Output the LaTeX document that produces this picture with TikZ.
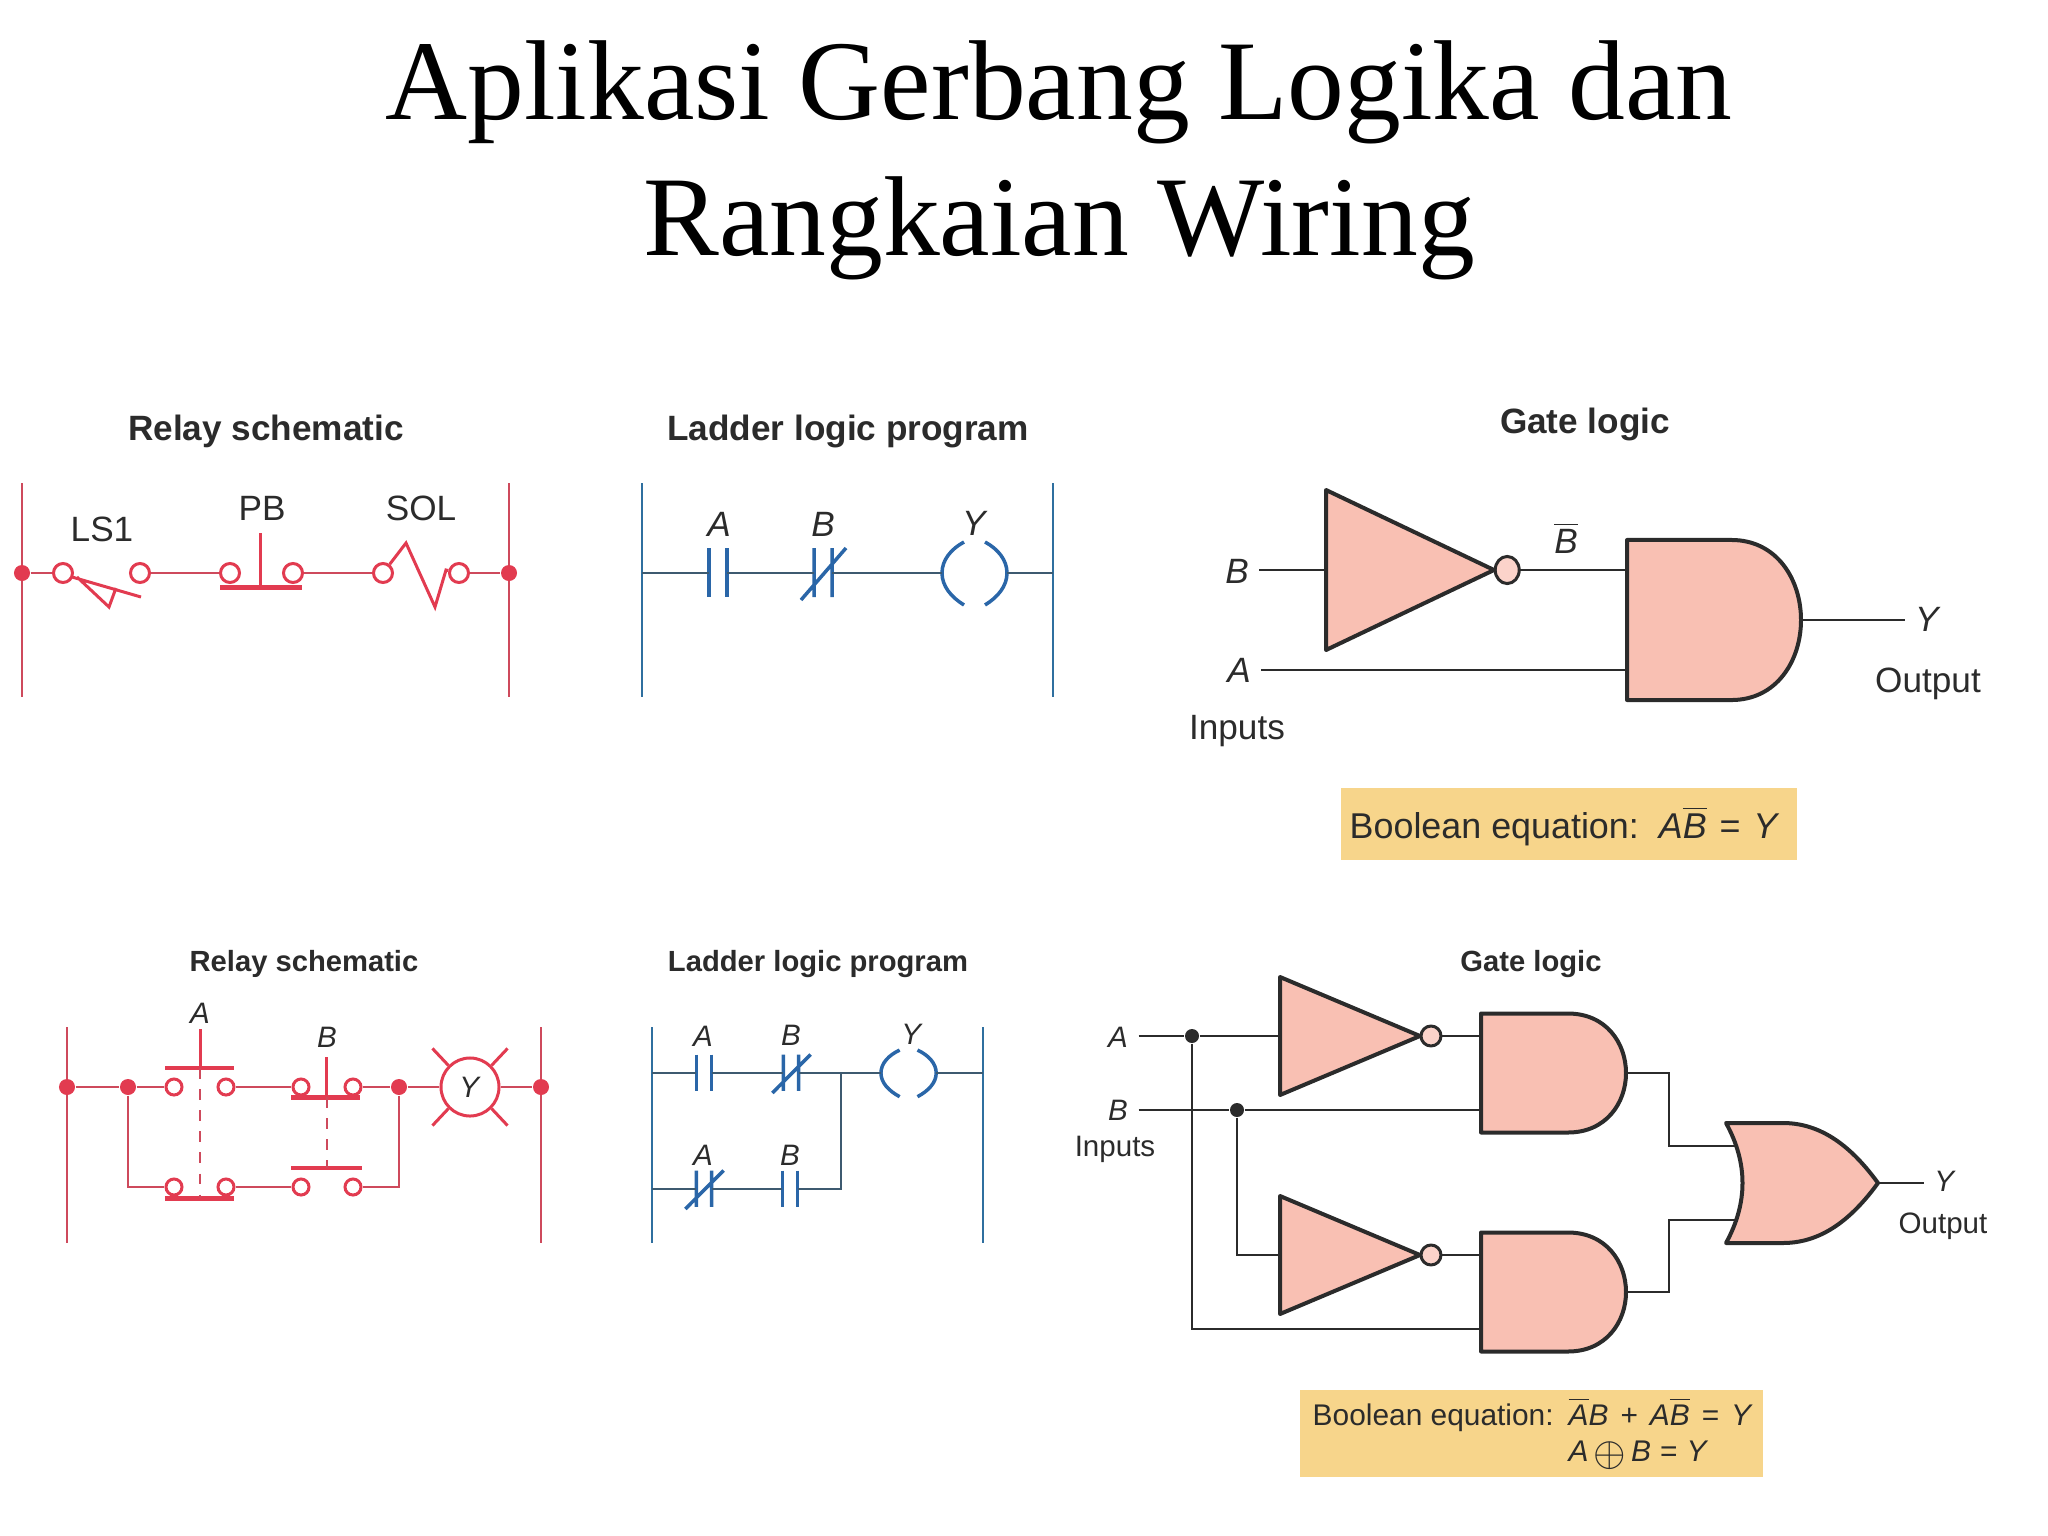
\documentclass[tikz,border=0pt]{standalone}
\usepackage{fontspec}
\setmainfont{Liberation Sans}
\newfontfamily\titlefont{Liberation Serif}
\usetikzlibrary{calc}

\definecolor{relayred}{HTML}{E23B50}
\definecolor{wirered}{HTML}{CE4A5C}
\definecolor{railblue}{HTML}{2F6F9F}
\definecolor{rungblue}{HTML}{3D5A70}
\definecolor{contactblue}{HTML}{2A66A8}
\definecolor{gatepink}{HTML}{F9C0B3}
\definecolor{bubblepink}{HTML}{FBD3CA}
\definecolor{boxyellow}{HTML}{F7D58B}
\definecolor{inktext}{HTML}{2B2B2B}

\tikzset{
    title/.style={font=\titlefont\fontsize{32.3}{39}\selectfont, anchor=base, text=black, inner sep=0pt},
    headbig/.style={font=\bfseries\fontsize{10}{12}\selectfont, text=inktext, inner sep=0pt},
    headsmall/.style={font=\bfseries\fontsize{8.3}{10}\selectfont, text=inktext, inner sep=0pt},
    lblbig/.style={font=\fontsize{10}{12}\selectfont, text=inktext, inner sep=0.1cm},
    lblsmall/.style={font=\fontsize{8.4}{10}\selectfont, text=inktext, inner sep=0.1cm},
    eqtext/.style={anchor=base west, text=inktext, inner sep=0pt},
    redrail/.style={wirered, line width=0.02cm},
    redwire/.style={wirered, line width=0.025cm},
    redbar/.style={relayred, line width=0.05cm},
    redline/.style={relayred, line width=0.03cm},
    pole/.style={circle, draw=relayred, line width=0.03cm, fill=white, minimum size=0.19cm, inner sep=0pt},
    polesmall/.style={pole, minimum size=0.16cm},
    reddot/.style={circle, fill=relayred, minimum size=0.16cm, inner sep=0pt},
    bluerail/.style={railblue, line width=0.02cm},
    bluewire/.style={rungblue, line width=0.025cm},
    bluebar/.style={contactblue, line width=0.035cm},
    gate/.style={draw=inktext, fill=gatepink, line width=0.04cm, line join=round},
    wire/.style={inktext, line width=0.025cm},
    blackdot/.style={circle, fill=inktext, minimum size=0.14cm, inner sep=0pt},
    eqbox/.style={fill=boxyellow, inner sep=0pt},
    andgate/.pic={
        \path[gate] (0,-59.5) -- (87,-59.5) .. controls (125,-59.5) and (145,-30) .. (145,0) .. controls (145,30) and (125,59.5) .. (87,59.5) -- (0,59.5) -- cycle;
        \coordinate (-in1) at (0,-37);
        \coordinate (-in2) at (0,37);
        \coordinate (-out) at (145,0);
    },
    orgate/.pic={
        \path[gate] (0,-60) -- (57,-60) .. controls (100,-60) and (130,-30) .. (152,0) .. controls (130,30) and (100,60) .. (57,60) -- (0,60) .. controls (22,20) and (22,-20) .. (0,-60) -- cycle;
        \coordinate (-in1) at (10,-37);
        \coordinate (-in2) at (10,37);
        \coordinate (-out) at (152,0);
    },
    notgate/.pic={
        \path[gate] (0,-59) -- (140,0) -- (0,59) -- cycle;
        \path[gate, fill=bubblepink, line width=0.03cm] (151,0) circle [radius=10];
        \coordinate (-in) at (0,0);
        \coordinate (-out) at (161,0);
    },
    nocontact/.pic={
        \draw[bluebar] (-9,-25) -- (-9,24) (9,-25) -- (9,24);
        \coordinate (-l) at (-9,0);
        \coordinate (-r) at (9,0);
    },
    nccontact/.pic={
        \draw[bluebar] (-9,-25) -- (-9,24) (9,-25) -- (9,24) (-22,27) -- (23,-25);
        \coordinate (-l) at (-9,0);
        \coordinate (-r) at (9,0);
    },
    coil/.pic={
        \draw[contactblue, line width=0.035cm] (-11,-31) .. controls (-24,-24) and (-33,-13) .. (-33,0) .. controls (-33,13) and (-24,24) .. (-11,32);
        \draw[contactblue, line width=0.035cm] (10,-31) .. controls (23,-24) and (32,-13) .. (32,0) .. controls (32,13) and (23,24) .. (10,32);
        \coordinate (-l) at (-33,0);
        \coordinate (-r) at (32,0);
    }
}

\begin{document}
\begin{tikzpicture}[x=0.01cm, y=-0.01cm]
    \useasboundingbox (0,0) rectangle (2048,1536);

    \node[title] (titleone) at (1059,119) {Aplikasi Gerbang Logika dan};
    \node[title] (titletwo) at (1059,255) {Rangkaian Wiring};

    % upper relay schematic
    \node[headbig] (headrelayone) at (266,431) {Relay schematic};
    \coordinate (railaT) at (22,483);
    \coordinate (railaB) at (22,697);
    \coordinate (railbT) at (509,483);
    \coordinate (railbB) at (509,697);
    \draw[redrail] (railaT) -- (railaB);
    \draw[redrail] (railbT) -- (railbB);
    \node[reddot] (dota) at (22,573) {};
    \node[reddot] (dotb) at (509,573) {};
    \node[pole] (lsl) at (63,573) {};
    \node[pole] (lsr) at (140,573) {};
    \node[pole] (pbl) at (230,573) {};
    \node[pole] (pbr) at (293,573) {};
    \node[pole] (soll) at (383,573) {};
    \node[pole] (solr) at (459,573) {};
    \draw[redwire] (dota) -- (lsl);
    \draw[redwire] (lsr) -- (pbl);
    \draw[redwire] (pbr) -- (soll);
    \draw[redwire] (solr) -- (dotb);
    \draw[redline] (72,577) -- (141,597) (77,577) -- (109,607) -- (116,588); % LS1
    \draw[redline] (260,533) -- (260,588); % PB
    \draw[redbar] (220,587) -- (302,587);
    \draw[redline] (soll) -- (406,543) -- (435,607) -- (446,570) -- (solr); % SOL
    \node[lblbig] (lblls) at (102,529) {LS1};
    \node[lblbig] (lblpb) at (262,508) {PB};
    \node[lblbig] (lblsol) at (421,508) {SOL};

    % upper ladder
    \node[headbig] (headladderone) at (848,431) {Ladder logic program};
    \coordinate (railcT) at (642,483);
    \coordinate (railcB) at (642,697);
    \coordinate (raildT) at (1053,483);
    \coordinate (raildB) at (1053,697);
    \draw[bluerail] (railcT) -- (railcB);
    \draw[bluerail] (raildT) -- (raildB);
    \coordinate (rungcL) at (642,573);
    \coordinate (rungcR) at (1053,573);
    \pic (conA) at (718,573) {nocontact};
    \pic (conB) at (823,573) {nccontact};
    \pic (coilY) at (975,573) {coil};
    \draw[bluewire] (rungcL) -- (conA-l);
    \draw[bluewire] (conA-r) -- (conB-l);
    \draw[bluewire] (conB-r) -- (coilY-l);
    \draw[bluewire] (coilY-r) -- (rungcR);
    \node[lblbig] (lblconA) at (719,524) {\textit{A}};
    \node[lblbig] (lblconB) at (823,524) {\textit{B}};
    \node[lblbig] (lblcoilY) at (975,523) {\textit{Y}};

    % upper gate logic
    \node[headbig] (headgateone) at (1585,424) {Gate logic};
    \node[lblbig] (lblB) at (1237,571) {\textit{B}};
    \node[lblbig] (lblA) at (1239,670) {\textit{A}};
    \node[lblbig] (lblY) at (1928,619) {\textit{Y}};
    \node[lblbig, inner sep=0pt] (lblBbar) at (1566,538) {$\overline{\mbox{\textit{B}}}$};
    \node[lblbig] (lblin) at (1237,731) {Inputs};
    \node[lblbig] (lblout) at (1928,684) {Output};
    \pic[xscale=1.2, yscale=1.356] (invB) at (1326,570) {notgate};
    \pic[xscale=1.2, yscale=1.345] (andY) at (1627,620) {andgate};
    \draw[wire] (invB-in -| lblB.east) -- (invB-in);
    \draw[wire] (invB-out) -- (invB-out -| andY-in1);
    \draw[wire] (andY-in2 -| lblA.east) -- (andY-in2);
    \draw[wire] (andY-out) -- (andY-out -| lblY.west);
    \node[eqbox, minimum width=4.56cm, minimum height=0.72cm] (boxone) at (1569,824) {};
    \node[eqtext, font=\fontsize{10.2}{12}\selectfont] (eqone) at (1349,838) {Boolean equation:\ \ \textit{A}$\overline{\mbox{\textit{B}}}$\hspace{.36em}=\hspace{.36em}\textit{Y}};

    % lower relay schematic
    \node[headsmall] (headrelaytwo) at (304,964) {Relay schematic};
    \coordinate (raileT) at (67,1027);
    \coordinate (raileB) at (67,1243);
    \coordinate (railfT) at (541,1027);
    \coordinate (railfB) at (541,1243);
    \draw[redrail] (raileT) -- (raileB);
    \draw[redrail] (railfT) -- (railfB);
    \node[reddot] (dote) at (67,1087) {};
    \node[reddot] (dotl) at (128,1087) {};
    \node[reddot] (dotr) at (399,1087) {};
    \node[reddot] (dotf) at (541,1087) {};
    \node[polesmall] (aupl) at (174,1087) {};
    \node[polesmall] (aupr) at (226,1087) {};
    \node[polesmall] (bupl) at (301,1087) {};
    \node[polesmall] (bupr) at (353,1087) {};
    \node[polesmall] (alol) at (174,1187) {};
    \node[polesmall] (alor) at (226,1187) {};
    \node[polesmall] (blol) at (301,1187) {};
    \node[polesmall] (blor) at (353,1187) {};
    \node[circle, draw=relayred, line width=0.03cm, fill=white, minimum size=0.58cm, inner sep=0pt, font=\fontsize{8.4}{10}\selectfont, text=inktext] (lamp) at (470,1087) {\textit{Y}};
    \draw[redwire] (dote) -- (dotl);
    \draw[redwire] (dotl) -- (aupl);
    \draw[redwire] (aupr) -- (bupl);
    \draw[redwire] (bupr) -- (dotr);
    \draw[redwire] (dotr) -- (lamp);
    \draw[redwire] (lamp) -- (dotf);
    \draw[redwire] (dotl) |- (alol);
    \draw[redwire] (alor) -- (blol);
    \draw[redwire] (dotr) |- (blor);
    \draw[redline] (200,1029) -- (200,1068);
    \draw[redbar, line width=0.035cm] (165,1068) -- (234,1068);
    \draw[redline] (326,1057) -- (326,1097);
    \draw[redbar] (291,1097) -- (360,1097);
    \draw[redbar] (165,1198) -- (234,1198);
    \draw[redbar, line width=0.035cm] (291,1168) -- (362,1168);
    \draw[wirered, line width=0.015cm, dashed] (200,1068) -- (200,1198);
    \draw[wirered, line width=0.015cm, dashed] (327,1097) -- (327,1168);
    \draw[redline] (lamp.135) -- ++(-16,-17);
    \draw[redline] (lamp.45) -- ++(16,-17);
    \draw[redline] (lamp.225) -- ++(-16,17);
    \draw[redline] (lamp.315) -- ++(16,17);
    \node[lblsmall] (lblrelA) at (200,1013) {\textit{A}};
    \node[lblsmall] (lblrelB) at (327,1037) {\textit{B}};

    % lower ladder
    \node[headsmall] (headladdertwo) at (818,964) {Ladder logic program};
    \coordinate (railgT) at (652,1027);
    \coordinate (railgB) at (652,1243);
    \coordinate (railhT) at (983,1027);
    \coordinate (railhB) at (983,1243);
    \draw[bluerail] (railgT) -- (railgB);
    \draw[bluerail] (railhT) -- (railhB);
    \coordinate (runggU) at (652,1073);
    \coordinate (rungjoin) at (841,1073);
    \coordinate (runghU) at (983,1073);
    \coordinate (runggL) at (652,1189);
    \pic[xscale=0.85, yscale=0.74] (conAa) at (704,1073) {nocontact};
    \pic[xscale=0.85, yscale=0.74] (conBa) at (791,1073) {nccontact};
    \pic[xscale=0.85, yscale=0.74] (coilYb) at (909,1073) {coil};
    \pic[xscale=0.85, yscale=0.74] (conAb) at (704,1189) {nccontact};
    \pic[xscale=0.85, yscale=0.74] (conBb) at (790,1189) {nocontact};
    \draw[bluewire] (runggU) -- (conAa-l);
    \draw[bluewire] (conAa-r) -- (conBa-l);
    \draw[bluewire] (conBa-r) -- (coilYb-l);
    \draw[bluewire] (coilYb-r) -- (runghU);
    \draw[bluewire] (runggL) -- (conAb-l);
    \draw[bluewire] (conAb-r) -- (conBb-l);
    \draw[bluewire] (conBb-r) -| (rungjoin);
    \node[lblsmall] (lbllaA) at (703,1036) {\textit{A}};
    \node[lblsmall] (lbllaB) at (791,1035) {\textit{B}};
    \node[lblsmall] (lbllaY) at (912,1034) {\textit{Y}};
    \node[lblsmall] (lbllbA) at (703,1155) {\textit{A}};
    \node[lblsmall] (lbllbB) at (790,1155) {\textit{B}};

    % lower gate logic
    \node[headsmall] (headgatetwo) at (1531,964) {Gate logic};
    \node[lblsmall] (lblXA) at (1118,1037) {\textit{A}};
    \node[lblsmall] (lblXB) at (1118,1110) {\textit{B}};
    \node[lblsmall] (lblXin) at (1115,1149) {Inputs};
    \node[lblsmall] (lblXY) at (1945,1181) {\textit{Y}};
    \node[lblsmall] (lblXout) at (1943,1226) {Output};
    \node[blackdot] (dotA) at (1192,1036) {};
    \node[blackdot] (dotB) at (1237,1110) {};
    \pic (invA) at (1280,1036) {notgate};
    \pic (invC) at (1280,1255) {notgate};
    \pic (andU) at (1481,1073) {andgate};
    \pic (andL) at (1481,1292) {andgate};
    \pic (orY) at (1726,1183) {orgate};
    \coordinate (bendU) at (1669,1073);
    \coordinate (bendL) at (1669,1292);
    \draw[wire] (dotA -| lblXA.east) -- (dotA);
    \draw[wire] (dotA) -- (invA-in);
    \draw[wire] (invA-out) -- (andU-in1);
    \draw[wire] (dotB -| lblXB.east) -- (dotB);
    \draw[wire] (dotB) -- (andU-in2);
    \draw[wire] (dotB) |- (invC-in);
    \draw[wire] (invC-out) -- (andL-in1);
    \draw[wire] (dotA) |- (andL-in2);
    \draw[wire] (andU-out) -- (bendU) |- (orY-in1);
    \draw[wire] (andL-out) -- (bendL) |- (orY-in2);
    \draw[wire] (orY-out) -- (orY-out -| lblXY.west);
    \node[eqbox, minimum width=4.63cm, minimum height=0.87cm] (boxtwo) at (1531.5,1433.5) {};
    \node[eqtext, font=\fontsize{8.5}{10}\selectfont] (eqtwoa) at (1312,1425) {Boolean equation:};
    \node[eqtext, font=\fontsize{8.5}{10}\selectfont] (eqtwob) at (1568,1425) {$\overline{\mbox{\textit{A}}}$\textit{B}\hspace{.4em}+\hspace{.4em}\textit{A}$\overline{\mbox{\textit{B}}}$\hspace{.4em}=\hspace{.4em}\textit{Y}};
    \node[eqtext, font=\fontsize{8.5}{10}\selectfont] (eqtwoc) at (1568,1461) {\textit{A}\,\raisebox{-0.3ex}{\scalebox{1.4}{$\oplus$}}\,\textit{B}\hspace{.3em}=\hspace{.3em}\textit{Y}};
\end{tikzpicture}
\end{document}
